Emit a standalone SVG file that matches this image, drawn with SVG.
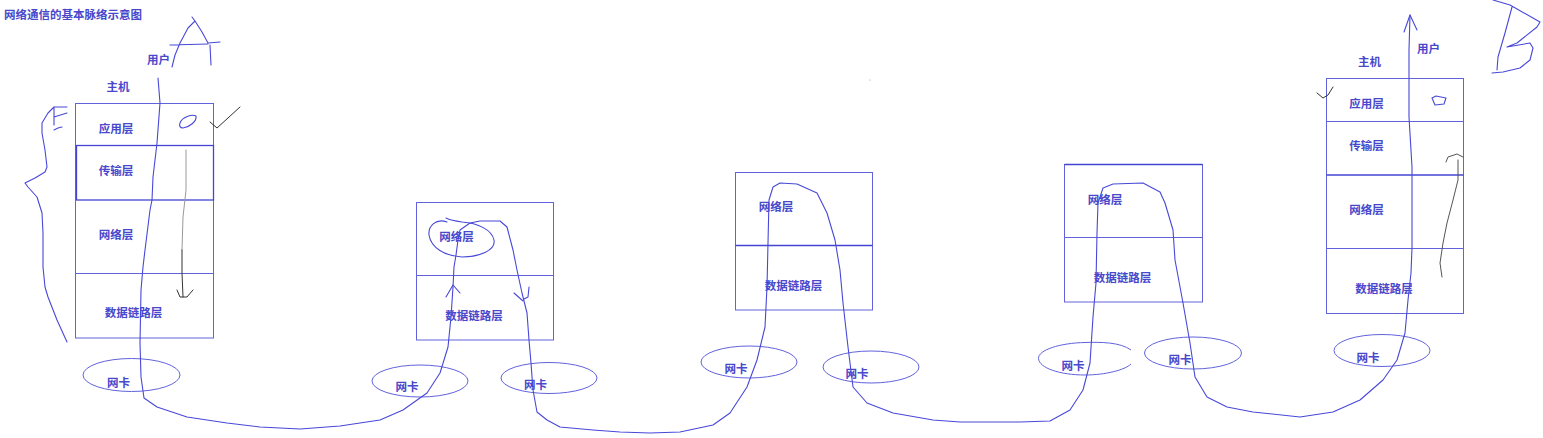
<svg xmlns="http://www.w3.org/2000/svg" width="1543" height="438" viewBox="0 0 1543 438">
<style>
.t{font-family:"Noto Sans CJK SC","Noto Sans",sans-serif;font-size:11.5px;font-weight:bold;fill:#4848cc;text-anchor:middle;dominant-baseline:central}
.box{fill:none;stroke:#6262dc;stroke-width:1}
.dk{fill:none;stroke:#4444d4;stroke-width:1.3}
.nic{fill:none;stroke:#6262dc;stroke-width:1}
.pen{fill:none;stroke:#4848d8;stroke-width:1.1;stroke-linejoin:round;stroke-linecap:round}
.ink{fill:none;stroke:#333;stroke-width:1;stroke-linejoin:round;stroke-linecap:round}
</style>
<rect width="1543" height="438" fill="#fff"/>
<text x="4" y="14" class="t" style="text-anchor:start">网络通信的基本脉络示意图</text>

<g id="hostA">
<text x="118" y="86" class="t">主机</text>
<text x="158.5" y="59" class="t">用户</text>
<rect x="75.5" y="103.5" width="138" height="234.5" class="box"/>
<line x1="75.5" y1="273.5" x2="213.5" y2="273.5" class="box"/>
<rect x="76.5" y="145.5" width="137" height="54.5" class="dk"/>
<text x="116" y="128" class="t">应用层</text>
<text x="116" y="170" class="t">传输层</text>
<text x="116" y="233.5" class="t">网络层</text>
<text x="133.5" y="312" class="t">数据链路层</text>
</g>
<g id="nicA">
<ellipse cx="131.5" cy="375" rx="48.5" ry="16.5" class="nic"/>
<text x="118.5" y="381.5" class="t">网卡</text>
</g>

<g id="router1">
<rect x="416.5" y="202.5" width="137" height="137.5" class="box"/>
<line x1="416.5" y1="275.5" x2="553.5" y2="275.5" class="box"/>
<text x="456.5" y="236" class="t">网络层</text>
<text x="474" y="315" class="t">数据链路层</text>
</g>
<g id="nic1a">
<ellipse cx="420" cy="381" rx="48" ry="16" class="nic"/>
<text x="407" y="386" class="t">网卡</text>
</g>
<g id="nic1b">
<ellipse cx="549" cy="378" rx="48" ry="15.5" class="nic"/>
<text x="535.5" y="384" class="t">网卡</text>
</g>

<g id="router2">
<rect x="735.5" y="172.5" width="137" height="137.5" class="box"/>
<line x1="735.5" y1="245.5" x2="872.5" y2="245.5" class="dk"/>
<text x="776" y="206" class="t">网络层</text>
<text x="793.5" y="284.5" class="t">数据链路层</text>
</g>
<g id="nic2a">
<ellipse cx="749" cy="362" rx="48" ry="16" class="nic"/>
<text x="736" y="368" class="t">网卡</text>
</g>
<g id="nic2b">
<ellipse cx="871" cy="367" rx="48" ry="16" class="nic"/>
<text x="857" y="373" class="t">网卡</text>
</g>

<g id="router3">
<rect x="1064.5" y="164.5" width="138" height="137.5" class="box"/>
<line x1="1064.5" y1="164.5" x2="1202.5" y2="164.5" class="dk"/>
<line x1="1064.5" y1="237.5" x2="1202.5" y2="237.5" class="box"/>
<text x="1105" y="198.5" class="t">网络层</text>
<text x="1122.5" y="276.5" class="t">数据链路层</text>
</g>
<g id="nic3a">
<path d="M1131,350 C1120,342 1100,342 1085,342.5 C1060,343 1038,350 1038.5,358.5 C1039,368 1060,375 1085,375 C1105,375 1125,370 1131,364" class="nic"/>
<text x="1073" y="365" class="t">网卡</text>
</g>
<g id="nic3b">
<ellipse cx="1193" cy="353" rx="48.5" ry="16" class="nic"/>
<text x="1180" y="358.5" class="t">网卡</text>
</g>

<g id="hostB">
<text x="1369.5" y="61" class="t">主机</text>
<text x="1428.5" y="48" class="t">用户</text>
<rect x="1326.5" y="78.5" width="137" height="235" class="box"/>
<line x1="1326.5" y1="121.5" x2="1463.5" y2="121.5" class="box"/>
<line x1="1326.5" y1="175" x2="1463.5" y2="175" class="dk"/>
<line x1="1326.5" y1="248.5" x2="1463.5" y2="248.5" class="box"/>
<text x="1366.5" y="102.5" class="t">应用层</text>
<text x="1366.5" y="145" class="t">传输层</text>
<text x="1366.5" y="209" class="t">网络层</text>
<text x="1384" y="287.5" class="t">数据链路层</text>
</g>
<g id="nicB">
<ellipse cx="1382" cy="350.5" rx="48" ry="16" class="nic"/>
<text x="1368" y="356.5" class="t">网卡</text>
</g>

<g id="connectors">
<path class="pen" d="M158,78 L160,103 L157,143 L153,177 L152,200 L150,210 L145,250 L143,267 L141,290 L140,343 L141,377 L144,398 L157,407 L187,417 L227,423 L260,427 L300,429 L340,426 L360,423 L380,420 L403,410 L427,393 L440,373 L448,347 L451,317 L453,287 L454,267 L456,255 L458,240 L460,230 L470,223 L480,221 L500,221 L507,227 L513,250 L517,270 L522,293 L527,313 L529,340 L531,363 L533,390 L537,412 L547,420 L560,427 L593,430 L620,432 L650,433 L680,432 L713,425 L730,413 L747,387 L757,360 L765,327 L767,287 L768,243 L769,200 L773,187 L780,183 L797,184 L817,193 L827,213 L835,240 L840,270 L843,303 L848,347 L853,387 L867,403 L893,413 L933,420 L960,422 L990,422 L1020,422 L1050,421 L1070,410 L1083,390 L1090,363 L1093,317 L1096,283 L1097,233 L1098,203 L1103,188 L1113,184 L1143,183 L1160,192 L1165,203 L1173,230 L1175,260 L1183,303 L1190,343 L1195,377 L1207,397 L1227,407 L1253,412 L1300,417 L1333,412 L1360,400 L1383,380 L1397,360 L1405,333 L1408,300 L1411,273 L1412,248 L1412,190 L1412,167 L1409,117 L1409,50 L1410,15"/>
<path class="pen" d="M1404,32 L1410,15 L1417,30"/>
<path class="pen" d="M447,222 C436,218 428,226 429,235 C431,248 445,256 462,257 C480,257 496,250 494,240 C492,230 478,223 462,222 C455,221 450,220 446,218"/>
<path class="pen" d="M446,297 L453,285 L460,293"/>
<path class="pen" d="M514,293 L523,301 M529,287 L528,297 L524,299"/>
<path class="ink" style="stroke:#999" d="M186,150 L186,190 L183,217 L182,250"/>
<path class="ink" d="M182,250 L182,273 L183,297 M177,290 L180,297 L187,297 L193,290"/>
<path class="ink" style="stroke:#555" d="M1446,162 L1448,157 L1457,154 L1463,157 M1458,160 L1458,180 L1453,200 L1447,223 L1443,243 L1440,263 L1442,277"/>
</g>

<g id="marks">
<path class="pen" d="M172,67 L175,55 L180,43 L188,28 L195,21 L192,17 M195,21 L202,32 L208,43 L220,42 M170,45 L208,44 M210,45 L211,65"/>
<path class="pen" d="M54,107 L67,107 M54,107 L54,125 M54,117 L67,113 M54,130 L58,128 L62,127 M54,107 L48,113 L42,123 L42,133 L45,150 L47,167 L45,172 L35,178 L25,183 L28,187 L37,197 L42,213 L43,233 L43,267 L45,287 L48,297 L57,320 L67,342"/>
<path class="pen" d="M180,123 C182,117 192,114 196,116 C197,121 190,127 183,128 C180,128 179,126 180,123"/>
<path class="ink" d="M210,122 L217,128 L240,107"/>
<path class="pen" d="M1432,98 L1436,96 L1446,98 L1444,104 L1435,105 Z"/>
<path class="ink" d="M1317,93 L1323,98 L1328,95 L1333,87"/>
<path class="pen" d="M1493,0 L1510,5 L1540,22 L1537,27 L1517,43 L1507,47 L1530,43 L1533,48 L1530,60 L1520,68 L1503,72 L1492,73 M1512,7 L1505,33 L1498,57 L1497,70"/>
<circle cx="870" cy="80" r="0.6" fill="#999"/>
</g>
</svg>
